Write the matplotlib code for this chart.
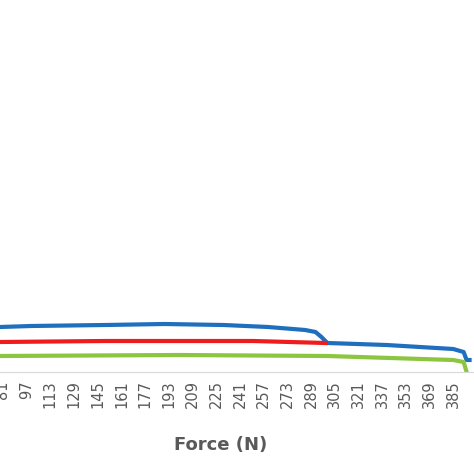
import numpy as np
import matplotlib
matplotlib.use("Agg")
import matplotlib.pyplot as plt

# curve heights above the axis (pixel-scale units)
blue_f = [1, 79, 100, 150, 190, 230, 260, 285, 292, 296, 300, 340, 385, 392, 394, 396]
blue_v = [46, 45, 46, 47, 48, 47, 45, 42, 40, 35, 29, 27, 23, 20, 12, 12]
red_f = [1, 79, 150, 250, 299]
red_v = [30, 30, 31, 31, 29]
green_f = [1, 79, 200, 300, 385, 392, 394]
green_v = [16, 16, 17, 16, 12, 10, 0]
ticks = list(range(81, 397, 16))

fig = plt.figure(figsize=(4.74, 4.74), dpi=100)
ax = fig.add_axes([0, 102 / 474, 1, 372 / 474])
ax.plot(blue_f, blue_v, color="#1f6fbf", lw=3)
ax.plot(red_f, red_v, color="#ee1c1c", lw=3)
ax.plot(green_f, green_v, color="#8cc540", lw=3)
ax.set_xticks(ticks)
ax.set_xticklabels([str(t) for t in ticks], rotation=90, color="#595959", fontsize=10.5)
ax.set_xlim(79, 399)
ax.set_ylim(0, 372)
ax.tick_params(axis="x", length=0, pad=6)
ax.set_yticks([])
for s in ["top", "left", "right"]:
    ax.spines[s].set_visible(False)
ax.spines["bottom"].set_color("#d9d9d9")
fig.text(0.465, 1 - 445 / 474, "Force (N)", ha="center", va="center",
         fontsize=13, fontweight="bold", color="#595959")
fig.savefig("out.png", dpi=100)
